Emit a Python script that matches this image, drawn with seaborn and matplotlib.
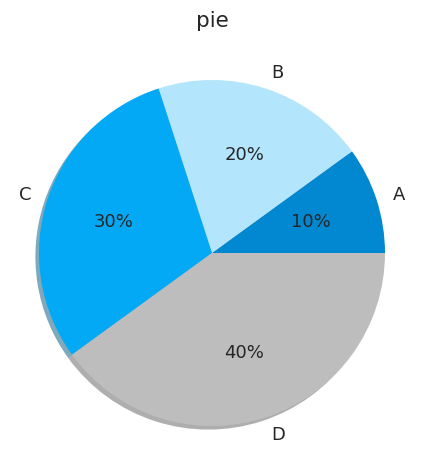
import matplotlib
matplotlib.use("Agg")
import matplotlib.pyplot as plt
import seaborn as sns

labels = ["A", "B", "C", "D"]
values = [10, 20, 30, 40]
colors = ["#0288D1", "#B3E5FC", "#03A9F4", "#BDBDBD"]

sns.set_style("white")
plt.rcParams['font.family'] = ['DejaVu Sans']

fig = plt.figure(figsize=(4.35, 4.56), dpi=100)
W, H = 435, 456
cx, cy, r = 212, 456 - 254, 173
lim = 1.15
ax = fig.add_axes([(cx - lim * r) / W, (cy - lim * r) / H, 2 * lim * r / W, 2 * lim * r / H])

wedges, texts, autotexts = ax.pie(values, labels=labels, colors=colors, autopct='%1.0f%%',
                                  shadow={'ox': -0.015, 'oy': -0.015, 'shade': 0.5},
                                  startangle=0, counterclock=True,
                                  wedgeprops={'linewidth': 0, 'edgecolor': 'none'},
                                  textprops={'fontsize': 13, 'color': '#262626'})
ax.set_xlim(-lim, lim)
ax.set_ylim(-lim, lim)
ax.set_aspect('equal')
ax.axis('off')
ax.set_title('pie', fontsize=15.5, color='#262626', y=1.07, pad=0)

fig.savefig("out.png", dpi=100)
